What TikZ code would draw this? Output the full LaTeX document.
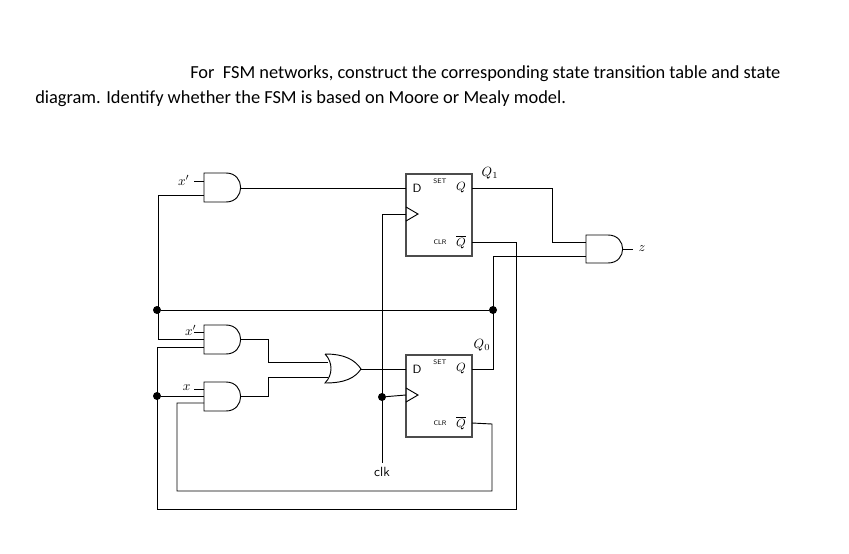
\documentclass[tikz,border=0pt]{standalone}
\usepackage{fontspec}
\setmainfont{Carlito}
\usetikzlibrary{calc}

\tikzset{
  wire/.style={line width=0.7pt},
  gate/.style={line width=0.7pt},
  ffbox/.style={draw=black!70, line width=0.8pt},
  dot/.style={circle, fill, inner sep=0pt, minimum size=6pt},
  pin/.style={font=\sffamily\small, inner sep=1pt},
  tag/.style={font=\sffamily\fontsize{5}{5}\selectfont, inner sep=0pt},
  sig/.style={font=\normalsize, inner sep=1pt},
}
% AND gate: left edge x, top y, bottom y
\newcommand{\andg}[3]{%
  \draw[gate] (#1,#2) -- ({#1+22},#2)
    .. controls ({#1+41.5},#2) and ({#1+41.5},#3) .. ({#1+22},#3)
    -- (#1,#3) -- cycle;}
% D flip-flop: name, left x, top y
\newcommand{\dff}[3]{%
  \draw[ffbox] (#2,#3) rectangle ({#2+66},{#3+82});
  \coordinate (#1d) at (#2,{#3+14});
  \coordinate (#1q) at ({#2+66},{#3+14});
  \coordinate (#1qb) at ({#2+66},{#3+68});
  \coordinate (#1c) at (#2,{#3+40});
  \draw[gate] ({#2},{#3+33}) -- ({#2+12},{#3+40}) -- ({#2},{#3+47});
  \node[pin] at ({#2+11},{#3+14}) {D};
  \node[pin] at ({#2+55},{#3+14}) {$Q$};
  \node[pin] at ({#2+55},{#3+68}) {$\overline{Q}$};
  \node[tag] at ({#2+34},{#3+7}) {SET};
  \node[tag] at ({#2+34},{#3+68}) {CLR};}

\begin{document}
\begin{tikzpicture}[x=0.75pt, y=-0.75pt]
  \useasboundingbox (0,0) rectangle (849,553);

  % question text
  \node[anchor=base west, inner sep=0pt, font=\fontsize{13.8}{16}\selectfont] (q1) at (190,78)
    {For\ \ FSM networks, construct the corresponding state transition table and state};
  \node[anchor=base west, inner sep=0pt, font=\fontsize{13.8}{16}\selectfont] (q2) at (35,103)
    {diagram. Identify whether the FSM is based on Moore or Mealy model.};

  % gates and flip-flops
  \andg{204}{173}{202}
  \andg{204}{325}{354}
  \andg{204}{382}{411}
  \andg{586}{235}{263}
  \draw[gate] (325,354) .. controls (333,362) and (333,375) .. (325,383)
    .. controls (345,383) and (355,378) .. (361,369)
    .. controls (355,360) and (345,354) .. (325,354);
  \dff{fa}{406}{174}
  \dff{fb}{406}{355}

  % input labels
  \node[sig, anchor=east] (xa) at (191,180) {$x'$};
  \node[sig, anchor=east] (xb) at (198,330) {$x'$};
  \node[sig, anchor=east] (xc) at (192,388) {$x$};
  \node[sig] (q1l) at (490,173) {$Q_1$};
  \node[sig] (q0l) at (482,345) {$Q_0$};
  \node[sig, anchor=west] (zl) at (637,249) {$z$};
  \node[font=\sffamily\normalsize] (clk) at (382,472) {clk};

  % junctions
  \node[dot] (ja) at (157,310) {};
  \node[dot] (jb) at (493,310) {};
  \node[dot] (jc) at (157,396) {};
  \node[dot] (jd) at (382,397) {};

  % wires
  \draw[wire] (194,181) -- (204,181);
  \draw[wire] (194,332) -- (204,332);
  \draw[wire] (194,389) -- (204,389);
  \draw[wire] (241,188) -- (fad);
  \draw[wire] (204,195) -- (158,195) -- (158,339) -- (204,339);
  \draw[wire] (ja) -- (jb);
  \draw[wire] (fbq) -- (493,369) -- (493,256) -- (586,256);
  \draw[wire] (faq) -- (552,188) -- (552,242) -- (586,242);
  \draw[wire] (623,249) -- (633,249);
  \draw[wire] (faqb) -- (516,242) -- (516,509) -- (157,509) -- (157,347) -- (204,347);
  \draw[wire] (jc) -- (204,396);
  \draw[wire] (fbqb) -- (492,424) -- (492,491) -- (177,491) -- (177,403) -- (204,403);
  \draw[wire] (241,339) -- (268,339) -- (268,362) -- (328,362);
  \draw[wire] (241,396) -- (268,396) -- (268,377) -- (328,377);
  \draw[wire] (361,369) -- (fbd);
  \draw[wire] (fac) -- (382,214) -- (clk.north);
  \draw[wire] (jd) -- (fbc);
\end{tikzpicture}
\end{document}
